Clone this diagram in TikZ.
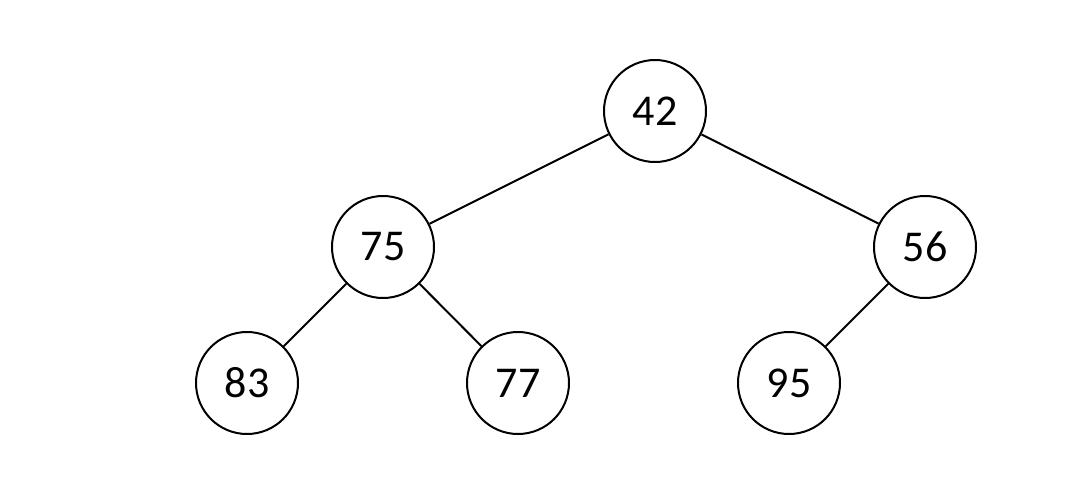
\documentclass[tikz,border=0pt]{standalone}
\usepackage{fontspec}
\setmainfont{Carlito}
\begin{document}
\begin{tikzpicture}[x=1pt,y=-1pt,
  treenode/.style={circle,draw=black,line width=2pt,fill=white,minimum size=102pt,inner sep=0pt,font=\fontsize{44}{44}\selectfont},
  edge/.style={line width=2pt,draw=black}]
\useasboundingbox[fill=white] (0,0) rectangle (1090,480);
\node[treenode] (n42) at (655,111) {42};
\node[treenode] (n75) at (383,247) {75};
\node[treenode] (n56) at (925,247) {56};
\node[treenode] (n83) at (247,383) {83};
\node[treenode] (n77) at (518,383) {77};
\node[treenode] (n95) at (789,383) {95};
\draw[edge] (n42) -- (n75);
\draw[edge] (n42) -- (n56);
\draw[edge] (n75) -- (n83);
\draw[edge] (n75) -- (n77);
\draw[edge] (n56) -- (n95);
\end{tikzpicture}
\end{document}
